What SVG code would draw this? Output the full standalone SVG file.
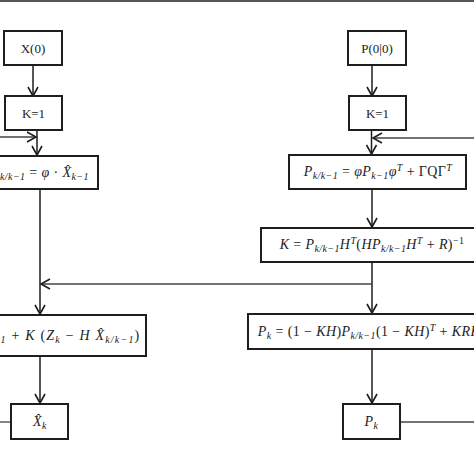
<svg xmlns="http://www.w3.org/2000/svg" width="474" height="474" viewBox="0 0 474 474">
<style>
.box{fill:#fff;stroke:#1e1e1e;stroke-width:2}
.ln{fill:none;stroke:#1e1e1e;stroke-width:1.5}
.fb{fill:none;stroke:#444;stroke-width:1.3}
.t{font-family:"Liberation Serif","DejaVu Serif",serif;font-size:13px;fill:#222;text-anchor:middle}
.m{font-family:"Liberation Serif","DejaVu Serif",serif;font-size:14px;font-style:italic;fill:#222;text-anchor:middle;letter-spacing:0.4px}
.u{font-style:normal}
.s{font-size:10px}
</style>
<defs>
<marker id="ah" markerWidth="12" markerHeight="12" refX="10" refY="6" orient="auto" markerUnits="userSpaceOnUse">
<path d="M1,1 L10,6 L1,11" fill="none" stroke="#1e1e1e" stroke-width="1.6"/>
</marker>
</defs>
<rect x="0" y="0" width="474" height="2" fill="#555"/>
<g id="connectors">
<line class="ln" x1="33" y1="65" x2="33" y2="96" marker-end="url(#ah)"/>
<line class="ln" x1="37" y1="130" x2="37" y2="155" marker-end="url(#ah)"/>
<line class="fb" x1="0" y1="137" x2="36" y2="137" marker-end="url(#ah)"/>
<line class="ln" x1="40" y1="189" x2="40" y2="314" marker-end="url(#ah)"/>
<line class="ln" x1="40" y1="356" x2="40" y2="403" marker-end="url(#ah)"/>
<line class="fb" x1="0" y1="422" x2="11" y2="422"/>
<line class="ln" x1="372" y1="65" x2="372" y2="96" marker-end="url(#ah)"/>
<line class="ln" x1="371.5" y1="130" x2="371.5" y2="154" marker-end="url(#ah)"/>
<line class="fb" x1="474" y1="138" x2="373" y2="138" marker-end="url(#ah)"/>
<line class="ln" x1="372" y1="189" x2="372" y2="227" marker-end="url(#ah)"/>
<line class="ln" x1="372" y1="262" x2="372" y2="313" marker-end="url(#ah)"/>
<line class="fb" x1="372" y1="284" x2="41" y2="284" marker-end="url(#ah)"/>
<line class="ln" x1="372" y1="349" x2="372" y2="403" marker-end="url(#ah)"/>
<line class="fb" x1="400" y1="422" x2="474" y2="422"/>
</g>
<g id="x0">
<rect class="box" x="4" y="31" width="58" height="34"/>
<text class="t" x="33" y="52.5">X(0)</text>
</g>
<g id="k1-left">
<rect class="box" x="5" y="96" width="57" height="34"/>
<text class="t" x="33.5" y="117.5">K=1</text>
</g>
<g id="predict-x">
<rect class="box" x="-20" y="156" width="118" height="33"/>
<text class="m" x="40" y="177">X̂<tspan class="s" dy="3">k/k−1</tspan><tspan dy="-3" class="u"> = </tspan>φ<tspan class="u"> · </tspan>X̂<tspan class="s" dy="3">k−1</tspan></text>
</g>
<g id="update-x">
<rect class="box" x="-66" y="315" width="212" height="41"/>
<text class="m" x="54" y="340" style="letter-spacing:1.2px">X̂<tspan class="s" dy="3">k/k−1</tspan><tspan dy="-3" class="u"> + </tspan>K<tspan class="u"> (</tspan>Z<tspan class="s" dy="3">k</tspan><tspan dy="-3" class="u"> − </tspan>H X̂<tspan class="s" dy="3">k/k−1</tspan><tspan dy="-3" class="u">)</tspan></text>
</g>
<g id="xk">
<rect class="box" x="11" y="404" width="57" height="35"/>
<text class="m" x="40" y="426">X̂<tspan class="s" dy="3">k</tspan></text>
</g>
<g id="p00">
<rect class="box" x="348" y="31" width="58" height="34"/>
<text class="t" x="377" y="52.5">P(0|0)</text>
</g>
<g id="k1-right">
<rect class="box" x="349" y="96" width="57" height="34"/>
<text class="t" x="377.5" y="117.5">K=1</text>
</g>
<g id="predict-p">
<rect class="box" x="289" y="155" width="177" height="34"/>
<text class="m" x="378" y="176">P<tspan class="s" dy="3">k/k−1</tspan><tspan dy="-3" class="u"> = </tspan>φP<tspan class="s" dy="3">k−1</tspan><tspan dy="-3">φ</tspan><tspan class="s" dy="-5">T</tspan><tspan dy="5" class="u"> + ΓQΓ</tspan><tspan class="s" dy="-5">T</tspan></text>
</g>
<g id="gain">
<rect class="box" x="261" y="228" width="222" height="34"/>
<text class="m" x="372" y="249">K<tspan class="u"> = </tspan>P<tspan class="s" dy="3">k/k−1</tspan><tspan dy="-3">H</tspan><tspan class="s" dy="-5">T</tspan><tspan dy="5" class="u">(</tspan>HP<tspan class="s" dy="3">k/k−1</tspan><tspan dy="-3">H</tspan><tspan class="s" dy="-5">T</tspan><tspan dy="5" class="u"> + </tspan>R<tspan class="u">)</tspan><tspan class="s u" dy="-5">−1</tspan></text>
</g>
<g id="update-p">
<rect class="box" x="248" y="314" width="248" height="35"/>
<text class="m" x="372" y="336">P<tspan class="s" dy="3">k</tspan><tspan dy="-3" class="u"> = (1 − </tspan>KH<tspan class="u">)</tspan>P<tspan class="s" dy="3">k/k−1</tspan><tspan dy="-3" class="u">(1 − </tspan>KH<tspan class="u">)</tspan><tspan class="s" dy="-5">T</tspan><tspan dy="5" class="u"> + </tspan>KRK<tspan class="s" dy="-5">T</tspan></text>
</g>
<g id="pk">
<rect class="box" x="343" y="404" width="57" height="35"/>
<text class="m" x="371.5" y="426">P<tspan class="s" dy="3">k</tspan></text>
</g>
</svg>
